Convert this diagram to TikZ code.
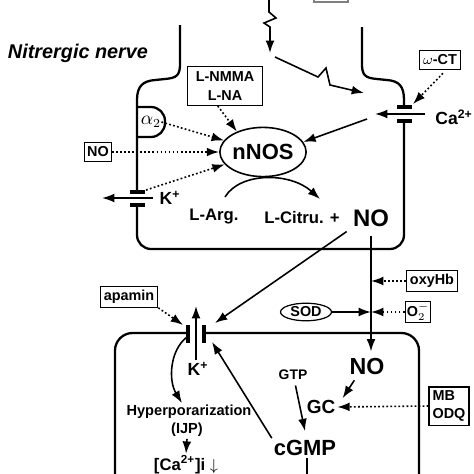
\documentclass[tikz,border=0pt]{standalone}
\usepackage{fontspec}
\setmainfont{Liberation Sans}
\usetikzlibrary{arrows.meta,shapes.geometric}
\newcommand{\fsz}[1]{\fontsize{#1}{#1}\selectfont}

\tikzset{
  memb/.style={line width=1.3pt},
  chan/.style={line width=2.3pt},
  arr/.style={line width=0.9pt, -{Latex[length=7pt,width=5pt]}},
  dotarr/.style={line width=0.9pt, dash pattern=on 1pt off 1.3pt, -{Latex[length=7pt,width=5pt]}},
  box/.style={draw, line width=0.7pt, inner sep=2pt, minimum height=11pt, font=\bfseries\fontsize{8.2}{10.5}\selectfont},
  lbl/.style={inner sep=1pt, font=\bfseries\fsz{9.5}},
}

\begin{document}
\begin{tikzpicture}[x=0.02cm, y=-0.02cm]
		\clip (0,0) rectangle (474,474);
		\coordinate (bottom) at (0,482);

		% stimulus coming in from the top
		\draw[gray, line width=0.8pt] (314,-10) rectangle (348,2);
		\coordinate (stim) at (269,-5);
		\coordinate (ap) at (270,53);
		\draw[arr] (stim) -- (269,12) -- (276,18) -- (264,23) -- (270,27) -- (ap);
		\coordinate (ap2) at (275,57);
		\coordinate (term) at (364,93);
		\draw[arr] (ap2) -- (318,77) -- (326,68) -- (330,85) -- (term);

		% nerve terminal
		\node[font=\bfseries\itshape\fsz{11.3}, inner sep=0] (title) at (78,53) {Nitrergic nerve};
		\draw[memb] (180,25) -- (180,64) .. controls (180,75) and (177,78) .. (165,79) -- (155,80)
			.. controls (143,81) and (137,86) .. (137,100) -- (137,192);
		\draw[memb] (362,27) -- (362,64) .. controls (362,75) and (365,78) .. (377,79) -- (387,80)
			.. controls (399,81) and (404,86) .. (404,100) -- (404,107);
		\draw[memb, rounded corners=8pt] (404,121) -- (404,249) -- (137,249) -- (137,205);
		\draw[chan] (397,107) -- (412,107);
		\draw[chan] (397,121) -- (412,121);
		\draw[chan] (130,192) -- (145,192);
		\draw[chan] (130,205) -- (145,205);
		\draw[memb, rounded corners=8pt] (137,107) -- (165,107) -- (165,137) -- (137,137);
		\node[inner sep=0, font=\fsz{10.5}] (alpha) at (151,122) {$\alpha_2$};

		\node[ellipse, draw, line width=0.9pt, minimum width=47pt, minimum height=28pt, inner sep=0,
			font=\bfseries\fsz{12.5}] (nnos) at (263,152) {nNOS};
		\node[box, align=center, minimum width=43pt, minimum height=22pt, inner sep=1pt] (inhib) at (225,86)
			{L-NMMA\\L-NA};
		\node[box] (omegact) at (440,60) {$\omega$-CT};
		\node[box, inner sep=1.5pt] (nobox) at (98,152) {NO};

		\node[lbl, font=\bfseries\fsz{10}] (ca) at (454,117) {Ca\textsuperscript{2+}};
		\node[lbl, font=\bfseries\fsz{10}] (knerve) at (170,198) {K\textsuperscript{+}};
		\node[lbl] (larg) at (214,217) {L-Arg.};
		\node[lbl] (lcit) at (302,218) {L-Citru. +};
		\node[lbl, font=\bfseries\fsz{13.6}] (no1) at (371,218) {NO};

		\coordinate (caout) at (425,114);
		\coordinate (cain) at (375,114);
		\draw[arr] (caout) -- (cain);
		\coordinate (castart) at (367,119);
		\draw[arr] (castart) -- (nnos.14);
		\draw[dotarr] (omegact.south) ++(3,3) -- (413,104);
		\coordinate (kin) at (153,198);
		\coordinate (kout) at (102,198);
		\draw[arr] (kin) -- (kout);

		\draw[dotarr] (inhib.250) -- (nnos.142);
		\draw[dotarr] (alpha.east) -- (nnos);
		\draw[dotarr] (nobox.east) -- (nnos.west);
		\coordinate (kdot) at (146,190);
		\draw[dotarr] (kdot) -- (nnos);
		\coordinate (rstart) at (225,197);
		\coordinate (rend) at (320,199);
		\draw[arr] (rstart) .. controls (240,172) and (290,172) .. (rend);

		% NO diffusing out
		\node[box] (oxy) at (432,281) {oxyHb};
		\node[box, minimum height=10pt, inner sep=1pt] (otwo) at (418,312) {O$_2^{-}$};
		\node[ellipse, draw, line width=0.7pt, minimum width=29pt, minimum height=10pt, inner sep=0,
			font=\bfseries\fsz{8.2}] (sod) at (306,312) {SOD};
		\node[lbl, font=\bfseries\fsz{13.2}] (no2) at (367,367) {NO};
		\draw[line width=0.9pt, -{Latex[length=7pt,width=5pt]}, shorten <=4pt, shorten >=3pt]
			(no1.south) -- (no1.south |- no2.north);
		\draw[dotarr] (oxy.west) -- (oxy.west -| no1.south);
		\draw[dotarr] (otwo.west) -- (otwo.west -| no1.south);
		\draw[arr] (sod.east) -- (sod.east -| no1.south);
		\coordinate (kmch) at (215,323);
		\draw[arr, shorten <=3pt] (no1.south west) -- (kmch);

		% smooth muscle cell
		\draw[memb, rounded corners=10pt] (188,333) -- (115,333) -- (115,482);
		\draw[memb, rounded corners=10pt] (204,333) -- (419,333) -- (419,482);
		\draw[chan] (188,325) -- (188,343);
		\draw[chan] (204,325) -- (204,343);
		\node[box] (apamin) at (129,297) {apamin};
		\coordinate (apin) at (183,325);
		\draw[dotarr] (apamin.south east) -- (apin);

		\node[lbl, font=\bfseries\fsz{10}] (kmus) at (198,369) {K\textsuperscript{+}};
		\coordinate (kup) at (196,306);
		\draw[arr] (kmus.north -| kup) -- (kup);
		\node[lbl, font=\bfseries\fsz{8.3}] (hyp) at (189,412) {Hyperporarization};
		\node[lbl, font=\bfseries\fsz{8.3}] (ijp) at (187,430) {(IJP)};
		\node[lbl, font=\bfseries\fsz{9.5}] (cai) at (186,465) {[Ca\textsuperscript{2+}]i $\downarrow$};
		\coordinate (kleft) at (187,337);
		\draw[arr] (kleft) .. controls (170,350) and (168,380) .. ([xshift=-4pt]hyp.north);
		\draw[arr] (ijp.south) -- (cai.north);

		\node[lbl, font=\bfseries\fsz{7.9}] (gtp) at (293,375) {GTP};
		\node[lbl, font=\bfseries\fsz{10.8}] (gc) at (321,407) {GC};
		\node[lbl, font=\bfseries\fsz{12.5}] (cgmp) at (305,448) {cGMP};
		\node[box, align=left, inner sep=2pt] (mb) at (449,406) {MB\\ODQ};
		\draw[arr, shorten <=2pt] ([xshift=5pt]no2.south west) -- ([xshift=3pt]gc.north east);
		\draw[dotarr] (mb.west) -- (gc.east);
		\draw[arr, shorten <=2pt] ([xshift=1pt]gtp.south) -- ([yshift=4pt]cgmp.north);
		\coordinate (kright) at (212,342);
		\draw[arr] (cgmp.north west) -- (kright);
		\draw[line width=0.9pt] ([xshift=1pt]cgmp.south) -- ([xshift=1pt]cgmp.south |- bottom);
	\end{tikzpicture}
\end{document}
